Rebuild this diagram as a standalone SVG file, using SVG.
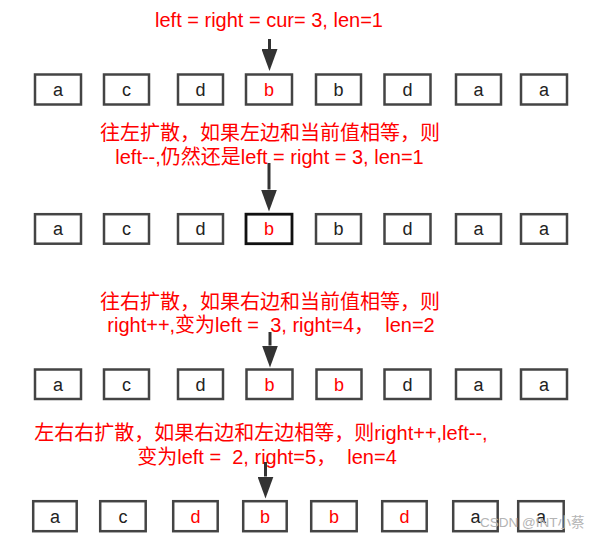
<svg xmlns="http://www.w3.org/2000/svg" width="602" height="540" viewBox="0 0 602 540">
<defs>
<marker id="ah" markerUnits="userSpaceOnUse" markerWidth="22" markerHeight="16" refX="0" refY="8" orient="auto" viewBox="0 0 22 16">
<path d="M0,0 L22,8 L0,16 z" fill="#333"/>
</marker>
<style>
.box{fill:#fff;stroke:#444;stroke-width:2.5}
.boxk{fill:#fff;stroke:#111;stroke-width:2.8}
.ch{font-family:"Liberation Sans",Arial,sans-serif;font-size:18px;text-anchor:middle;fill:#222}
.red{fill:#ff0000}
.lbl{font-family:"Liberation Sans","Noto Sans CJK SC",sans-serif;font-size:20px;fill:#ff0000;text-anchor:middle;white-space:pre}
.arr{stroke:#333;stroke-width:3;fill:none;marker-end:url(#ah)}
.wm{font-family:"Liberation Sans","Noto Sans CJK SC",sans-serif;font-size:13.5px;fill:#b4b4b4}
</style>
</defs>
<rect width="602" height="540" fill="#fff"/>

<g id="labels">
<text class="lbl" x="269" y="27">left = right = cur= 3, len=1</text>
<text class="lbl" x="270" y="140">往左扩散，如果左边和当前值相等，则</text>
<text class="lbl" x="269.5" y="164">left--,仍然还是left = right = 3, len=1</text>
<text class="lbl" x="270" y="308.5">往右扩散，如果右边和当前值相等，则</text>
<text class="lbl" x="271" y="332">right++,变为left =  3, right=4，  len=2</text>
<text class="lbl" x="261" y="440">左右右扩散，如果右边和左边相等，则right++,left--,</text>
<text class="lbl" x="267" y="464">变为left =  2, right=5，  len=4</text>
</g>

<g id="connectors">
<line class="arr" x1="269.5" y1="39" x2="269.5" y2="49"/>
<line class="arr" x1="269" y1="163" x2="269" y2="189.5"/>
<line class="arr" x1="270" y1="332" x2="270" y2="345.5"/>
<line class="arr" x1="265.5" y1="462" x2="265.5" y2="476.5"/>
</g>

<g id="row1">
<g id="r1b1"><rect class="box" x="35" y="74.5" width="46" height="30"/><text class="ch" x="58" y="95.8">a</text></g>
<g id="r1b2"><rect class="box" x="104" y="74.5" width="45" height="30"/><text class="ch" x="126.5" y="95.8">c</text></g>
<g id="r1b3"><rect class="box" x="178" y="74.5" width="45" height="30"/><text class="ch" x="200.5" y="95.8">d</text></g>
<g id="r1b4"><rect class="box" x="246" y="74.5" width="46" height="30"/><text class="ch red" x="269" y="95.8">b</text></g>
<g id="r1b5"><rect class="box" x="316" y="74.5" width="45" height="30"/><text class="ch" x="338.5" y="95.8">b</text></g>
<g id="r1b6"><rect class="box" x="384.5" y="74.5" width="46" height="30"/><text class="ch" x="407.5" y="95.8">d</text></g>
<g id="r1b7"><rect class="box" x="456" y="74.5" width="45" height="30"/><text class="ch" x="478.5" y="95.8">a</text></g>
<g id="r1b8"><rect class="box" x="521" y="74.5" width="46" height="30"/><text class="ch" x="544" y="95.8">a</text></g>
</g>

<g id="row2">
<g id="r2b1"><rect class="box" x="35" y="214.2" width="46" height="29.5"/><text class="ch" x="58" y="235.2">a</text></g>
<g id="r2b2"><rect class="box" x="104" y="214.2" width="45" height="29.5"/><text class="ch" x="126.5" y="235.2">c</text></g>
<g id="r2b3"><rect class="box" x="178" y="214.2" width="45" height="29.5"/><text class="ch" x="200.5" y="235.2">d</text></g>
<g id="r2b4"><rect class="boxk" x="246" y="214.2" width="46" height="29.5"/><text class="ch red" x="269" y="235.2">b</text></g>
<g id="r2b5"><rect class="box" x="316" y="214.2" width="45" height="29.5"/><text class="ch" x="338.5" y="235.2">b</text></g>
<g id="r2b6"><rect class="box" x="384.5" y="214.2" width="46" height="29.5"/><text class="ch" x="407.5" y="235.2">d</text></g>
<g id="r2b7"><rect class="box" x="456" y="214.2" width="45" height="29.5"/><text class="ch" x="478.5" y="235.2">a</text></g>
<g id="r2b8"><rect class="box" x="521" y="214.2" width="46" height="29.5"/><text class="ch" x="544" y="235.2">a</text></g>
</g>

<g id="row3">
<g id="r3b1"><rect class="box" x="35" y="369.5" width="46" height="29.5"/><text class="ch" x="58" y="390.5">a</text></g>
<g id="r3b2"><rect class="box" x="104" y="369.5" width="45" height="29.5"/><text class="ch" x="126.5" y="390.5">c</text></g>
<g id="r3b3"><rect class="box" x="178" y="369.5" width="45" height="29.5"/><text class="ch" x="200.5" y="390.5">d</text></g>
<g id="r3b4"><rect class="box" x="246.5" y="369.5" width="46" height="29.5"/><text class="ch red" x="269.5" y="390.5">b</text></g>
<g id="r3b5"><rect class="box" x="316.5" y="369.5" width="45" height="29.5"/><text class="ch red" x="339" y="390.5">b</text></g>
<g id="r3b6"><rect class="box" x="384.5" y="369.5" width="46" height="29.5"/><text class="ch" x="407.5" y="390.5">d</text></g>
<g id="r3b7"><rect class="box" x="456" y="369.5" width="45" height="29.5"/><text class="ch" x="478.5" y="390.5">a</text></g>
<g id="r3b8"><rect class="box" x="521" y="369.5" width="46" height="29.5"/><text class="ch" x="544" y="390.5">a</text></g>
</g>

<g id="row4">
<g id="r4b1"><rect class="box" x="33.2" y="501.2" width="43.5" height="30"/><text class="ch" x="55" y="522.6">a</text></g>
<g id="r4b2"><rect class="box" x="100.2" y="501.2" width="45.5" height="30"/><text class="ch" x="123" y="522.6">c</text></g>
<g id="r4b3"><rect class="box" x="173.2" y="501.2" width="44.5" height="30"/><text class="ch red" x="195.5" y="522.6">d</text></g>
<g id="r4b4"><rect class="box" x="243.2" y="501.2" width="43.5" height="30"/><text class="ch red" x="265" y="522.6">b</text></g>
<g id="r4b5"><rect class="box" x="311.2" y="501.2" width="45.5" height="30"/><text class="ch red" x="334" y="522.6">b</text></g>
<g id="r4b6"><rect class="box" x="382.2" y="501.2" width="44.5" height="30"/><text class="ch red" x="404.5" y="522.6">d</text></g>
<g id="r4b7"><rect class="box" x="453.2" y="501.2" width="44.5" height="30"/><text class="ch" x="475.5" y="522.6">a</text></g>
<g id="r4b8"><rect class="box" x="518.2" y="501.2" width="45.5" height="30"/><text class="ch" x="541" y="522.6">a</text></g>
</g>

<text class="wm" x="480" y="527">CSDN @INT小蔡</text>
</svg>
